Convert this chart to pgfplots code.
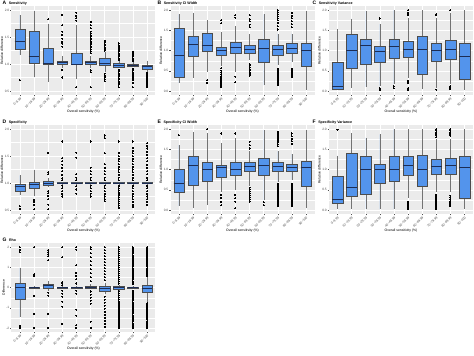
\documentclass[border=0pt]{standalone}
\usepackage{fontspec}
\setmainfont{Liberation Sans}
\usepackage{pgfplots}
\pgfplotsset{compat=1.18}
\usepgfplotslibrary{statistics}

\definecolor{bggray}{RGB}{235,235,235}
\definecolor{boxblue}{RGB}{83,148,236}
\definecolor{mednavy}{RGB}{28,45,85}
\definecolor{tickgray}{RGB}{77,77,77}

\pgfplotsset{
 panel/.style={
  scale only axis, width=144pt, height=89pt,
  anchor=north west,
  axis background/.style={fill=bggray},
  axis line style={draw=none},
  xmin=0.4, xmax=10.6,
  xtick={1,...,10},
  xticklabels={0--9.99,10--19.99,20--29.99,30--39.99,40--49.99,50--59.99,60--69.99,70--79.99,80--89.99,90--100},
  x tick label style={rotate=45, anchor=north east, font=\fontsize{3.2}{3.6}\selectfont, text=tickgray, inner sep=0.5pt},
  y tick label style={font=\fontsize{3.2}{3.6}\selectfont, text=tickgray, inner sep=0.8pt},
  yticklabel style={/pgf/number format/.cd, fixed, fixed zerofill, precision=1},
  tick pos=left,
  xmajorgrids, ymajorgrids, yminorgrids, minor y tick num=1,
  major grid style={white, line width=0.45pt},
  minor grid style={white, line width=0.22pt},
  tick style={tickgray, line width=0.3pt},
  tick align=outside, major tick length=1.3pt, minor tick length=0pt,
  xlabel={Overall sensitivity (\%)},
  xlabel style={font=\fontsize{3.4}{4}\selectfont, inner sep=0.5pt},
  ylabel={Relative difference},
  ylabel style={font=\fontsize{3.4}{4}\selectfont, inner sep=0.5pt},
  every axis title/.style={anchor=base west, at={(0,1)}, yshift=2pt, inner sep=0pt},
  /pgf/number format/assume math mode=true,
 },
 bxs/.style={draw=black!70, line width=0.3pt, fill=boxblue,
  mark=*, mark size=0.55pt, mark options={solid, fill=black, draw=black, line width=0pt},
  boxplot/draw direction=y,
  boxplot/box extend=0.75, boxplot/whisker extend=0,
  boxplot/every median/.style={draw=mednavy, line width=0.9pt},
  boxplot/every whisker/.style={draw=black!55}},
}
\newcommand{\ttl}[2]{{\fontsize{5}{5}\bfseries\selectfont #1}\hspace{2.5pt}{\fontsize{3.6}{4}\bfseries\selectfont #2}}
\newcommand{\bx}[7]{\addplot[bxs, boxplot prepared={draw position=#1, lower whisker=#2, lower quartile=#3, median=#4, upper quartile=#5, upper whisker=#6}] coordinates {#7};}

\begin{document}
\begin{tikzpicture}
\useasboundingbox (0,0) rectangle (474pt,-356pt);

% ---------------- A
\begin{axis}[panel, at={(11.5pt,-6pt)}, ymin=0.425, ymax=2.075, ytick={0.5,1,1.5,2},
  title={\ttl{A}{Sensitivity}}, title style={xshift=-9pt, yshift=-0.5pt}]
\bx{1}{1.17}{1.27}{1.42}{1.64}{1.91}{(0,0.70)}
\bx{2}{0.75}{1.02}{1.14}{1.60}{1.99}{}
\bx{3}{0.67}{1.00}{1.01}{1.29}{1.75}{(0,1.83)}
\bx{4}{0.93}{1.00}{1.03}{1.06}{1.14}{(0,1.91) (0,1.72) (0,1.60) (0,1.54) (0,1.47) (0,1.41) (0,1.38) (0,1.32) (0,0.89) (0,0.75)}
\bx{5}{0.72}{1.00}{1.00}{1.21}{1.72}{(0,1.95) (0,1.89) (0,1.85) (0,1.80) (0,0.57)}
\bx{6}{0.92}{1.00}{1.03}{1.06}{1.14}{(0,1.78) (0,1.72) (0,1.66) (0,1.60) (0,1.56) (0,1.52) (0,1.48) (0,1.45) (0,1.42) (0,1.39) (0,1.36) (0,1.33) (0,1.30) (0,1.27) (0,1.24) (0,1.20) (0,0.88) (0,0.85) (0,0.57)}
\bx{7}{0.85}{0.97}{1.01}{1.10}{1.22}{(0,1.43) (0,1.40) (0,1.37) (0,1.34) (0,1.31) (0,1.28) (0,1.25) (0,0.82) (0,0.78) (0,0.75) (0,0.72) (0,0.68)}
\bx{8}{0.92}{0.95}{0.98}{1.01}{1.05}{(0,1.38) (0,1.35) (0,1.32) (0,1.29) (0,1.26) (0,1.23) (0,1.20) (0,1.17) (0,1.14) (0,1.11) (0,1.08) (0,0.89) (0,0.86) (0,0.83) (0,0.80) (0,0.77) (0,0.74) (0,0.71) (0,0.68) (0,0.65) (0,0.62) (0,0.57)}
\bx{9}{0.94}{0.96}{0.98}{1.00}{1.03}{(0,1.23) (0,1.20) (0,1.17) (0,1.14) (0,1.11) (0,1.08) (0,1.05) (0,0.91) (0,0.88) (0,0.85) (0,0.82) (0,0.79) (0,0.76) (0,0.73) (0,0.70) (0,0.65) (0,0.57)}
\bx{10}{0.86}{0.91}{0.95}{0.98}{1.06}{(0,0.84) (0,0.82) (0,0.80) (0,0.78) (0,0.76) (0,0.74) (0,0.72) (0,0.70) (0,0.68) (0,0.66) (0,0.64) (0,0.62) (0,0.60) (0,0.57)}
\end{axis}

% ---------------- B
\begin{axis}[panel, at={(170.5pt,-6pt)}, ymin=-0.1, ymax=2.1, ytick={0,0.5,1,1.5,2},
  title={\ttl{B}{Sensitivity CI Width}}, title style={xshift=-13pt, yshift=-0.5pt}]
\bx{1}{0.20}{0.33}{0.89}{1.56}{1.89}{}
\bx{2}{0.33}{0.87}{1.16}{1.35}{1.93}{}
\bx{3}{0.48}{0.98}{1.13}{1.43}{1.75}{(0,0.27) (0,0.20)}
\bx{4}{0.62}{0.89}{1.00}{1.08}{1.45}{(0,1.75) (0,1.67) (0,0.56) (0,0.50) (0,0.45) (0,0.40) (0,0.35) (0,0.30) (0,0.25) (0,0.20) (0,0.15) (0,0.10)}
\bx{5}{0.48}{0.93}{1.08}{1.21}{1.60}{(0,1.87) (0,1.81) (0,0.35) (0,0.22)}
\bx{6}{0.77}{0.93}{1.03}{1.12}{1.40}{(0,1.87) (0,1.77) (0,1.72) (0,1.64) (0,1.58) (0,0.66) (0,0.62) (0,0.58) (0,0.54) (0,0.50) (0,0.46) (0,0.42) (0,0.38)}
\bx{7}{0.14}{0.71}{1.06}{1.27}{1.89}{}
\bx{8}{0.65}{0.88}{1.03}{1.14}{1.42}{(0,2.00) (0,1.95) (0,1.90) (0,1.85) (0,1.80) (0,1.75) (0,1.68) (0,1.60) (0,1.52) (0,0.55) (0,0.50) (0,0.45) (0,0.40) (0,0.35) (0,0.30) (0,0.25) (0,0.20) (0,0.15)}
\bx{9}{0.72}{0.93}{1.04}{1.17}{1.42}{(0,1.93) (0,1.86) (0,1.80) (0,1.72) (0,1.65) (0,1.58) (0,0.55) (0,0.50) (0,0.45) (0,0.40) (0,0.35)}
\bx{10}{0.03}{0.62}{0.99}{1.17}{1.97}{}
\end{axis}

% ---------------- C
\begin{axis}[panel, at={(329pt,-6pt)}, ymin=-0.1, ymax=2.1, ytick={0,0.5,1,1.5,2},
  title={\ttl{C}{Sensitivity Variance}}, title style={xshift=-16.5pt, yshift=-0.5pt}]
\bx{1}{0.03}{0.05}{0.10}{0.71}{1.53}{}
\bx{2}{0.07}{0.57}{1.00}{1.40}{1.79}{}
\bx{3}{0.10}{0.67}{1.13}{1.27}{1.98}{}
\bx{4}{0.12}{0.71}{0.98}{1.10}{1.65}{(0,1.79) (0,0.07) (0,0.04) (0,0.02)}
\bx{5}{0.17}{0.82}{1.10}{1.27}{2.00}{(0,0.12) (0,0.07)}
\bx{6}{0.33}{0.83}{1.03}{1.22}{1.80}{(0,2.00) (0,1.93) (0,1.88) (0,0.25) (0,0.20) (0,0.07) (0,0.03)}
\bx{7}{0.04}{0.42}{1.02}{1.35}{2.00}{}
\bx{8}{0.07}{0.73}{1.00}{1.18}{1.80}{(0,1.90) (0,1.87) (0,0.03)}
\bx{9}{0.18}{0.78}{1.02}{1.25}{1.92}{(0,2.00) (0,0.12) (0,0.09) (0,0.06) (0,0.04)}
\bx{10}{0.02}{0.28}{0.85}{1.17}{2.00}{}
\end{axis}

% ---------------- D
\begin{axis}[panel, at={(11.5pt,-125pt)}, ymin=0.425, ymax=2.075, ytick={0.5,1,1.5,2},
  title={\ttl{D}{Specificity}}, title style={xshift=-9pt}]
\bx{1}{0.78}{0.85}{0.94}{0.98}{1.14}{(0,0.57) (0,0.52)}
\bx{2}{0.75}{0.90}{0.97}{1.01}{1.25}{(0,0.69) (0,0.65) (0,0.60) (0,0.51)}
\bx{3}{0.92}{0.96}{0.99}{1.03}{1.10}{(0,1.56) (0,1.20) (0,1.16) (0,0.85) (0,0.81) (0,0.76) (0,0.70) (0,0.60) (0,0.51)}
\bx{4}{0.98}{0.99}{1.00}{1.01}{1.02}{(0,1.77) (0,1.46) (0,1.40) (0,1.34) (0,1.28) (0,1.22) (0,1.15) (0,1.09) (0,1.05) (0,0.95) (0,0.90) (0,0.85) (0,0.80) (0,0.75)}
\bx{5}{0.98}{0.99}{1.00}{1.01}{1.02}{(0,1.56) (0,1.47) (0,1.16) (0,1.10) (0,1.05) (0,0.94) (0,0.88) (0,0.80)}
\bx{6}{0.98}{0.99}{1.00}{1.01}{1.02}{(0,1.77) (0,1.28) (0,1.22) (0,1.16) (0,1.10) (0,1.05) (0,0.95) (0,0.90) (0,0.85) (0,0.80) (0,0.75)}
\bx{7}{0.98}{0.99}{1.00}{1.01}{1.02}{(0,1.88) (0,1.83) (0,1.55) (0,1.35) (0,1.28) (0,1.22) (0,1.16) (0,1.10) (0,1.05) (0,0.95) (0,0.90) (0,0.85) (0,0.80) (0,0.75) (0,0.70) (0,0.66)}
\bx{8}{0.98}{0.99}{1.00}{1.01}{1.02}{(0,1.77) (0,1.56) (0,1.50) (0,1.45) (0,1.40) (0,1.35) (0,1.30) (0,1.25) (0,1.20) (0,1.15) (0,1.10) (0,1.05) (0,0.95) (0,0.90) (0,0.86) (0,0.82) (0,0.78) (0,0.74) (0,0.70) (0,0.66) (0,0.62) (0,0.58) (0,0.54)}
\bx{9}{0.98}{0.99}{1.00}{1.01}{1.02}{(0,1.77) (0,1.65) (0,1.60) (0,1.55) (0,1.50) (0,1.45) (0,1.40) (0,1.35) (0,1.30) (0,1.25) (0,1.20) (0,1.15) (0,1.10) (0,1.05) (0,0.95) (0,0.90) (0,0.85) (0,0.80) (0,0.75) (0,0.70) (0,0.65) (0,0.60) (0,0.56)}
\bx{10}{0.98}{0.99}{1.00}{1.01}{1.02}{(0,1.74) (0,1.69) (0,1.64) (0,1.58) (0,1.52) (0,1.46) (0,1.40) (0,1.34) (0,1.28) (0,1.22) (0,1.16) (0,1.10) (0,1.05) (0,0.95) (0,0.90) (0,0.85) (0,0.80) (0,0.75) (0,0.70) (0,0.65) (0,0.60)}
\end{axis}

% ---------------- E
\begin{axis}[panel, at={(170.5pt,-125pt)}, ymin=-0.1, ymax=2.1, ytick={0,0.5,1,1.5,2},
  title={\ttl{E}{Specificity CI Width}}, title style={xshift=-13pt}]
\bx{1}{0.10}{0.45}{0.66}{1.00}{1.60}{(0,1.85)}
\bx{2}{0.04}{0.62}{1.09}{1.34}{1.93}{}
\bx{3}{0.12}{0.72}{1.00}{1.18}{1.89}{(0,2.00)}
\bx{4}{0.45}{0.82}{1.05}{1.10}{1.65}{(0,1.89) (0,0.37) (0,0.30) (0,0.20) (0,0.12)}
\bx{5}{0.49}{0.86}{1.01}{1.18}{1.77}{(0,1.89) (0,0.37) (0,0.29) (0,0.20) (0,0.04)}
\bx{6}{0.60}{0.95}{1.07}{1.17}{1.45}{(0,1.69) (0,1.60) (0,1.52) (0,0.55) (0,0.50) (0,0.45) (0,0.40) (0,0.35) (0,0.30) (0,0.25) (0,0.20)}
\bx{7}{0.25}{0.85}{1.11}{1.29}{1.98}{(0,0.19) (0,0.12)}
\bx{8}{0.70}{0.97}{1.07}{1.18}{1.45}{(0,1.93) (0,1.88) (0,1.83) (0,1.78) (0,1.73) (0,1.68) (0,1.63) (0,1.58) (0,0.65) (0,0.60) (0,0.55) (0,0.50) (0,0.45) (0,0.40) (0,0.35) (0,0.30) (0,0.25) (0,0.20) (0,0.15) (0,0.10)}
\bx{9}{0.75}{0.97}{1.05}{1.14}{1.38}{(0,1.89) (0,1.82) (0,1.76) (0,1.70) (0,1.64) (0,0.65) (0,0.60) (0,0.55) (0,0.50) (0,0.45) (0,0.40) (0,0.35) (0,0.30) (0,0.25) (0,0.20) (0,0.15) (0,0.10)}
\bx{10}{0.04}{0.58}{1.06}{1.21}{1.98}{}
\end{axis}

% ---------------- F
\begin{axis}[panel, at={(329pt,-125pt)}, ymin=-0.1, ymax=2.1, ytick={0,0.5,1,1.5,2},
  title={\ttl{F}{Specificity Variance}}, title style={xshift=-16.5pt}]
\bx{1}{0.02}{0.16}{0.26}{0.84}{1.34}{(0,1.98)}
\bx{2}{0.02}{0.33}{0.55}{1.40}{1.89}{}
\bx{3}{0.02}{0.40}{0.99}{1.32}{1.79}{}
\bx{4}{0.02}{0.66}{1.01}{1.14}{1.87}{}
\bx{5}{0.02}{0.72}{1.01}{1.34}{2.00}{}
\bx{6}{0.30}{0.86}{1.09}{1.32}{2.00}{(0,0.20) (0,0.15) (0,0.10) (0,0.05) (0,0.02)}
\bx{7}{0.02}{0.58}{1.00}{1.36}{2.00}{}
\bx{8}{0.45}{0.89}{1.07}{1.26}{1.75}{(0,2.00) (0,1.96) (0,1.92) (0,1.88) (0,1.84) (0,1.80) (0,0.38) (0,0.35) (0,0.30) (0,0.25) (0,0.20) (0,0.15) (0,0.10) (0,0.05) (0,0.02)}
\bx{9}{0.45}{0.89}{1.09}{1.27}{1.75}{(0,2.00) (0,1.96) (0,1.92) (0,1.88) (0,1.84) (0,0.35) (0,0.30) (0,0.25) (0,0.20) (0,0.15) (0,0.10)}
\bx{10}{0.02}{0.30}{1.05}{1.33}{2.00}{}
\end{axis}

% ---------------- G
\begin{axis}[panel, at={(11.5pt,-243pt)}, ymin=-2.2, ymax=2.2, ytick={-2,-1,0,1,2},
  ylabel={Difference}, yticklabel style={/pgf/number format/.cd, fixed, precision=0},
  title={\ttl{G}{Rho}}, title style={xshift=-9pt}]
\bx{1}{-1.46}{-0.57}{0.00}{0.21}{0.98}{(0,2.00) (0,1.87) (0,1.74) (0,-1.90) (0,-2.00)}
\bx{2}{-0.05}{-0.02}{0.00}{0.02}{0.05}{(0,2.00) (0,0.65) (0,0.57) (0,-0.40) (0,-1.30) (0,-1.98)}
\bx{3}{-0.15}{-0.05}{0.08}{0.16}{0.30}{(0,1.85) (0,1.75) (0,1.65) (0,1.55) (0,1.35) (0,-0.25) (0,-0.40) (0,-1.30) (0,-2.00)}
\bx{4}{-0.05}{-0.02}{0.00}{0.02}{0.05}{(0,2.00) (0,1.50) (0,0.27) (0,0.20) (0,0.12) (0,-0.16) (0,-0.30) (0,-0.45) (0,-0.70) (0,-0.95) (0,-1.80)}
\bx{5}{-0.05}{-0.02}{0.00}{0.02}{0.05}{(0,2.00) (0,1.87) (0,1.10) (0,0.72) (0,0.57) (0,0.40) (0,0.20) (0,-0.16) (0,-0.30) (0,-1.10) (0,-1.40) (0,-1.87) (0,-2.00)}
\bx{6}{-0.08}{-0.03}{0.00}{0.08}{0.15}{(0,2.00) (0,1.90) (0,1.70) (0,1.50) (0,1.30) (0,1.10) (0,0.90) (0,0.70) (0,0.50) (0,0.30) (0,-0.20) (0,-0.35) (0,-0.50) (0,-0.65) (0,-0.80) (0,-1.70) (0,-2.00)}
\bx{7}{-0.30}{-0.16}{-0.05}{0.05}{0.20}{(0,2.00) (0,1.85) (0,1.70) (0,1.55) (0,1.40) (0,1.25) (0,1.10) (0,0.95) (0,0.80) (0,0.65) (0,0.50) (0,0.35) (0,-0.45) (0,-0.60) (0,-0.75) (0,-0.90) (0,-1.05) (0,-1.20) (0,-1.35) (0,-1.50) (0,-1.65) (0,-1.80) (0,-1.95)}
\bx{8}{-0.15}{-0.08}{-0.02}{0.05}{0.12}{(0,2.00) (0,1.90) (0,1.80) (0,1.70) (0,1.60) (0,1.50) (0,1.40) (0,1.30) (0,1.20) (0,1.10) (0,1.00) (0,0.90) (0,0.80) (0,0.70) (0,0.60) (0,0.50) (0,0.40) (0,0.30) (0,0.20) (0,-0.20) (0,-0.30) (0,-0.40) (0,-0.50) (0,-0.60) (0,-0.70) (0,-0.80) (0,-0.90) (0,-1.00) (0,-1.10) (0,-1.20) (0,-1.30) (0,-1.40) (0,-1.50) (0,-1.60) (0,-1.70) (0,-1.80) (0,-1.90) (0,-2.00)}
\bx{9}{-0.08}{-0.04}{0.00}{0.04}{0.08}{(0,2.00) (0,1.92) (0,1.84) (0,1.76) (0,1.68) (0,1.60) (0,1.52) (0,1.44) (0,1.36) (0,1.28) (0,1.20) (0,1.12) (0,1.04) (0,0.96) (0,0.88) (0,0.80) (0,0.72) (0,0.64) (0,0.56) (0,0.48) (0,0.40) (0,0.32) (0,0.24) (0,0.16) (0,-0.16) (0,-0.24) (0,-0.32) (0,-0.40) (0,-0.48) (0,-0.56) (0,-0.64) (0,-0.72) (0,-0.80) (0,-0.88) (0,-0.96) (0,-1.04) (0,-1.12) (0,-1.20) (0,-1.28) (0,-1.36) (0,-1.44) (0,-1.52) (0,-1.60) (0,-1.68) (0,-1.76) (0,-1.84) (0,-1.92) (0,-2.00)}
\bx{10}{-0.70}{-0.24}{-0.05}{0.11}{0.50}{(0,2.00) (0,1.92) (0,1.84) (0,1.76) (0,1.68) (0,1.60) (0,1.52) (0,1.44) (0,1.36) (0,1.28) (0,1.20) (0,1.12) (0,1.04) (0,0.96) (0,0.88) (0,0.80) (0,0.72) (0,0.64) (0,0.56) (0,-0.78) (0,-0.86) (0,-0.94) (0,-1.02) (0,-1.10) (0,-1.18) (0,-1.26) (0,-1.34) (0,-1.42) (0,-1.50) (0,-1.58) (0,-1.66) (0,-1.74) (0,-1.82) (0,-1.90) (0,-2.00)}
\end{axis}
\end{tikzpicture}
\end{document}
